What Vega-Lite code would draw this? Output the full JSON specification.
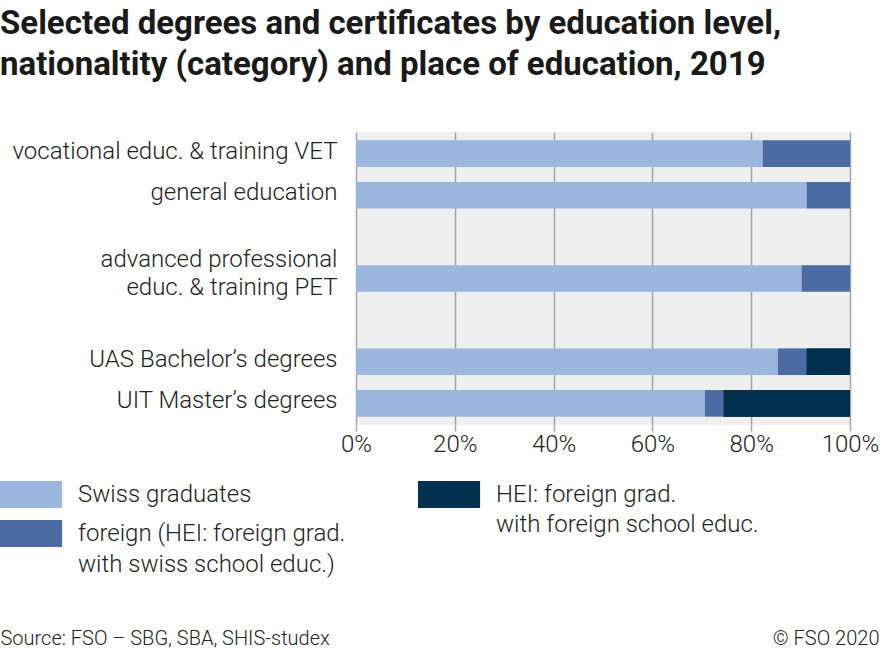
{
  "$schema": "https://vega.github.io/schema/vega-lite/v6.json",
  "width": 494,
  "height": 293,
  "autosize": {"type": "none"},
  "padding": {"left": 356, "top": 132, "right": 31, "bottom": 227},
  "background": "white",
  "title": {
    "text": ["Selected degrees and certificates by education level,", "nationaltity (category) and place of education, 2019"],
    "anchor": "start",
    "frame": "group",
    "dx": -356,
    "offset": 50,
    "font": "Roboto",
    "fontSize": 33,
    "fontWeight": "bold",
    "lineHeight": 41,
    "color": "#1a1a1a"
  },
  "config": {
    "font": "Roboto",
    "view": {"fill": "#efefef", "stroke": null},
    "legend": {
      "orient": "none",
      "padding": 0,
      "title": null,
      "symbolType": "M-1,-1L3.6,-1L3.6,1L-1,1Z",
      "symbolSize": 729,
      "symbolOpacity": 1,
      "symbolStrokeWidth": 0,
      "labelFontSize": 24,
      "labelFontWeight": 300,
      "labelColor": "#222222",
      "labelOffset": 51,
      "labelBaseline": "top",
      "labelLimit": 400
    }
  },
  "data": {
    "values": [
      {"level": "vocational educ. & training VET", "group": "Swiss graduates", "rank": 1, "share": 82.3},
      {"level": "vocational educ. & training VET", "group": "foreign (HEI: foreign grad.\nwith swiss school educ.)", "rank": 2, "share": 17.7},
      {"level": "general education", "group": "Swiss graduates", "rank": 1, "share": 91.2},
      {"level": "general education", "group": "foreign (HEI: foreign grad.\nwith swiss school educ.)", "rank": 2, "share": 8.8},
      {"level": "advanced professional\neduc. & training PET", "group": "Swiss graduates", "rank": 1, "share": 90.2},
      {"level": "advanced professional\neduc. & training PET", "group": "foreign (HEI: foreign grad.\nwith swiss school educ.)", "rank": 2, "share": 9.8},
      {"level": "UAS Bachelor’s degrees", "group": "Swiss graduates", "rank": 1, "share": 85.4},
      {"level": "UAS Bachelor’s degrees", "group": "foreign (HEI: foreign grad.\nwith swiss school educ.)", "rank": 2, "share": 5.8},
      {"level": "UAS Bachelor’s degrees", "group": "HEI: foreign grad.\nwith foreign school educ.", "rank": 3, "share": 8.8},
      {"level": "UIT Master’s degrees", "group": "Swiss graduates", "rank": 1, "share": 70.6},
      {"level": "UIT Master’s degrees", "group": "foreign (HEI: foreign grad.\nwith swiss school educ.)", "rank": 2, "share": 3.8},
      {"level": "UIT Master’s degrees", "group": "HEI: foreign grad.\nwith foreign school educ.", "rank": 3, "share": 25.6}
    ]
  },
  "transform": [
    {"stack": "share", "groupby": ["level"], "sort": [{"field": "rank", "order": "ascending"}], "offset": "normalize", "as": ["x0", "x1"]}
  ],
  "encoding": {
    "y": {
      "field": "level",
      "type": "nominal",
      "scale": {
        "domain": ["vocational educ. & training VET", "general education", "gap1", "advanced professional\neduc. & training PET", "gap2", "UAS Bachelor’s degrees", "UIT Master’s degrees"],
        "paddingInner": 0.36,
        "paddingOuter": 0.2
      },
      "axis": {
        "values": ["vocational educ. & training VET", "general education", "advanced professional\neduc. & training PET", "UAS Bachelor’s degrees", "UIT Master’s degrees"],
        "labelExpr": "split(datum.value, '\\n')",
        "labelFontSize": 24,
        "labelFontWeight": 300,
        "labelColor": "#222222",
        "labelLineHeight": 28,
        "labelPadding": 19,
        "labelLimit": 400,
        "labelOffset": {"condition": {"test": "indexof(datum.value, '\\n') >= 0", "value": -19}, "value": -2},
        "ticks": false,
        "domain": false,
        "grid": false,
        "title": "© FSO 2020",
        "titleAngle": 0,
        "titleX": 523,
        "titleY": 506,
        "titleAlign": "right",
        "titleBaseline": "middle",
        "titleFontSize": 20,
        "titleFontWeight": 300,
        "titleColor": "#222222"
      }
    },
    "x": {
      "field": "x0",
      "type": "quantitative",
      "scale": {"domain": [0, 1], "nice": false},
      "axis": {
        "values": [0, 0.2, 0.4, 0.6, 0.8, 1],
        "format": ".0%",
        "labelFontSize": 24,
        "labelFontWeight": 300,
        "labelColor": "#222222",
        "labelPadding": 1,
        "labelFlush": false,
        "tickSize": 6,
        "tickColor": "#a3a3a3",
        "tickWidth": 1.5,
        "domain": false,
        "grid": true,
        "gridColor": "#a3a3a3",
        "gridWidth": 1.5,
        "title": "Source: FSO – SBG, SBA, SHIS-studex",
        "titleX": -356,
        "titleY": 213,
        "titleAlign": "left",
        "titleAnchor": null,
        "titleBaseline": "middle",
        "titleFontSize": 20,
        "titleFontWeight": 300,
        "titleColor": "#222222"
      }
    },
    "x2": {"field": "x1"}
  },
  "layer": [
    {
      "mark": {"type": "bar"},
      "encoding": {
        "color": {
          "field": "group",
          "type": "nominal",
          "scale": {
            "domain": ["Swiss graduates", "foreign (HEI: foreign grad.\nwith swiss school educ.)", "HEI: foreign grad.\nwith foreign school educ."],
            "range": ["#9bb7de", "#4b6ca2", "#02304f"]
          },
          "legend": {
            "values": ["Swiss graduates", "foreign (HEI: foreign grad.\nwith swiss school educ.)"],
            "legendX": -356,
            "legendY": 349,
            "rowPadding": 12,
            "labelExpr": "split(datum.label, '\\n')",
            "encode": {"labels": {"update": {"dy": {"value": -12}, "lineHeight": {"value": 31}}}}
          }
        }
      }
    },
    {
      "transform": [{"filter": "datum.rank == 3"}],
      "mark": {"type": "bar"},
      "encoding": {
        "color": {
          "field": "group",
          "type": "nominal",
          "scale": {
            "domain": ["HEI: foreign grad.\nwith foreign school educ."],
            "range": ["#02304f"]
          },
          "legend": {
            "legendX": 62,
            "legendY": 349,
            "labelExpr": "split(datum.label, '\\n')",
            "encode": {"labels": {"update": {"dy": {"value": -12}, "lineHeight": {"value": 30}}}}
          }
        }
      }
    }
  ],
  "resolve": {"scale": {"color": "independent"}}
}
